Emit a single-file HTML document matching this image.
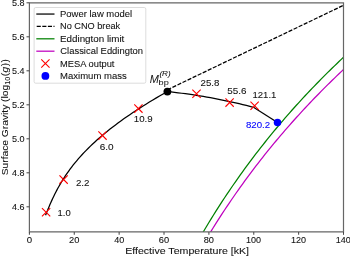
<!DOCTYPE html>
<html><head><meta charset="utf-8"><style>
html,body{margin:0;padding:0;background:#fff;width:350px;height:256px;overflow:hidden}
svg{display:block;will-change:transform}
text{font-family:"Liberation Sans",sans-serif}
</style></head><body>
<svg width="350" height="256" viewBox="0 0 350 256">
<rect width="350" height="256" fill="#fff"/>
<defs><clipPath id="ax"><rect x="29.40" y="2.80" width="314.10" height="229.15"/></clipPath></defs>
<g clip-path="url(#ax)">
<path d="M167.4,89.8 L343.5,5.3" stroke="#000" stroke-width="1.25" stroke-dasharray="4.1,1.5" fill="none"/>
<path d="M164.01,307.51 L166.26,302.63 L168.50,297.82 L170.75,293.10 L172.99,288.45 L175.23,283.87 L177.48,279.36 L179.72,274.92 L181.96,270.54 L184.21,266.23 L186.45,261.98 L188.69,257.79 L190.94,253.66 L193.18,249.59 L195.42,245.57 L197.67,241.61 L199.91,237.70 L202.16,233.84 L204.40,230.03 L206.64,226.26 L208.89,222.55 L211.13,218.88 L213.37,215.26 L215.62,211.68 L217.86,208.14 L220.10,204.65 L222.35,201.19 L224.59,197.78 L226.83,194.40 L229.08,191.06 L231.32,187.77 L233.57,184.50 L235.81,181.27 L238.05,178.08 L240.30,174.92 L242.54,171.80 L244.78,168.71 L247.03,165.65 L249.27,162.62 L251.51,159.62 L253.76,156.65 L256.00,153.71 L258.24,150.80 L260.49,147.92 L262.73,145.07 L264.97,142.24 L267.22,139.44 L269.46,136.67 L271.71,133.92 L273.95,131.20 L276.19,128.50 L278.44,125.83 L280.68,123.18 L282.92,120.56 L285.17,117.95 L287.41,115.38 L289.65,112.82 L291.90,110.28 L294.14,107.77 L296.38,105.28 L298.63,102.81 L300.87,100.36 L303.12,97.93 L305.36,95.51 L307.60,93.12 L309.85,90.75 L312.09,88.40 L314.33,86.06 L316.58,83.75 L318.82,81.45 L321.06,79.17 L323.31,76.91 L325.55,74.66 L327.80,72.43 L330.04,70.22 L332.28,68.02 L334.53,65.84 L336.77,63.68 L339.01,61.53 L341.26,59.40 L343.50,57.28 L345.74,55.18" stroke="#008000" stroke-width="1.25" fill="none"/>
<path d="M164.01,319.75 L166.26,314.87 L168.50,310.06 L170.75,305.34 L172.99,300.69 L175.23,296.11 L177.48,291.60 L179.72,287.16 L181.96,282.78 L184.21,278.47 L186.45,274.22 L188.69,270.03 L190.94,265.90 L193.18,261.83 L195.42,257.81 L197.67,253.85 L199.91,249.94 L202.16,246.08 L204.40,242.27 L206.64,238.50 L208.89,234.79 L211.13,231.12 L213.37,227.50 L215.62,223.92 L217.86,220.38 L220.10,216.89 L222.35,213.43 L224.59,210.02 L226.83,206.64 L229.08,203.30 L231.32,200.01 L233.57,196.74 L235.81,193.51 L238.05,190.32 L240.30,187.16 L242.54,184.04 L244.78,180.95 L247.03,177.89 L249.27,174.86 L251.51,171.86 L253.76,168.89 L256.00,165.95 L258.24,163.04 L260.49,160.16 L262.73,157.31 L264.97,154.48 L267.22,151.68 L269.46,148.91 L271.71,146.16 L273.95,143.44 L276.19,140.74 L278.44,138.07 L280.68,135.42 L282.92,132.80 L285.17,130.19 L287.41,127.62 L289.65,125.06 L291.90,122.52 L294.14,120.01 L296.38,117.52 L298.63,115.05 L300.87,112.60 L303.12,110.17 L305.36,107.75 L307.60,105.36 L309.85,102.99 L312.09,100.64 L314.33,98.30 L316.58,95.99 L318.82,93.69 L321.06,91.41 L323.31,89.15 L325.55,86.90 L327.80,84.67 L330.04,82.46 L332.28,80.26 L334.53,78.08 L336.77,75.92 L339.01,73.77 L341.26,71.64 L343.50,69.52 L345.74,67.42" stroke="#bf00bf" stroke-width="1.25" fill="none"/>
<path d="M45.54,215.30 L46.37,213.20 L47.21,211.11 L48.07,209.01 L48.95,206.91 L49.84,204.82 L50.76,202.72 L51.70,200.62 L52.67,198.53 L53.67,196.43 L54.70,194.33 L55.76,192.24 L56.85,190.14 L57.98,188.04 L59.15,185.95 L60.36,183.85 L61.61,181.75 L62.90,179.66 L64.24,177.56 L65.62,175.46 L67.05,173.37 L68.53,171.27 L70.05,169.17 L71.63,167.08 L73.26,164.98 L74.95,162.88 L76.68,160.79 L78.48,158.69 L80.32,156.59 L82.23,154.50 L84.19,152.40 L86.21,150.31 L88.29,148.21 L90.43,146.11 L92.63,144.02 L94.89,141.92 L97.21,139.82 L99.59,137.73 L102.03,135.63 L104.53,133.53 L107.09,131.44 L109.72,129.34 L112.41,127.24 L115.16,125.15 L117.97,123.05 L120.84,120.95 L123.77,118.86 L126.77,116.76 L129.82,114.66 L132.93,112.57 L136.11,110.47 L139.34,108.37 L142.63,106.28 L145.98,104.18 L149.38,102.08 L152.85,99.99 L156.36,97.89 L159.94,95.79 L163.56,93.70 L167.24,91.60" stroke="#000" stroke-width="1.25" stroke-linejoin="round" fill="none"/>
<path d="M167.40,91.61 L170.99,91.98 L174.58,92.38 L178.16,92.80 L181.75,93.25 L185.34,93.72 L188.93,94.22 L192.51,94.74 L196.10,95.28 L199.69,95.85 L203.28,96.44 L206.86,97.06 L210.45,97.70 L214.04,98.37 L217.62,99.06 L221.21,99.78 L224.80,100.52 L228.39,101.28 L231.98,102.07 L235.56,102.88 L239.15,103.72 L242.74,104.58 L246.32,105.46 L249.91,106.37 L253.50,107.31" stroke="#000" stroke-width="1.25" stroke-linejoin="round" fill="none"/>
<path d="M253.50,107.30 L277.50,122.50" stroke="#000" stroke-width="1.25" stroke-linejoin="round" fill="none"/>
<path d="M41.95,208.15 L50.25,216.45 M41.95,216.45 L50.25,208.15" stroke="#ff0000" stroke-width="1.1" fill="none"/>
<path d="M59.45,175.45 L67.75,183.75 M59.45,183.75 L67.75,175.45" stroke="#ff0000" stroke-width="1.1" fill="none"/>
<path d="M98.35,131.45 L106.65,139.75 M98.35,139.75 L106.65,131.45" stroke="#ff0000" stroke-width="1.1" fill="none"/>
<path d="M134.25,104.45 L142.55,112.75 M134.25,112.75 L142.55,104.45" stroke="#ff0000" stroke-width="1.1" fill="none"/>
<path d="M192.35,89.55 L200.65,97.85 M192.35,97.85 L200.65,89.55" stroke="#ff0000" stroke-width="1.1" fill="none"/>
<path d="M225.45,98.45 L233.75,106.75 M225.45,106.75 L233.75,98.45" stroke="#ff0000" stroke-width="1.1" fill="none"/>
<path d="M250.45,101.55 L258.75,109.85 M250.45,109.85 L258.75,101.55" stroke="#ff0000" stroke-width="1.1" fill="none"/>
<circle cx="167.4" cy="91.6" r="3.9" fill="#000"/>
<circle cx="277.5" cy="122.5" r="3.75" fill="#0000ff"/>
</g>
<text transform="translate(57.48,215.60) scale(0.9886,1)" font-size="9.6" fill="#111" stroke="#111" stroke-width="0.08">1.0</text>
<text transform="translate(75.91,186.40) scale(1.0174,1)" font-size="9.6" fill="#111" stroke="#111" stroke-width="0.08">2.2</text>
<text transform="translate(99.69,150.00) scale(1.0417,1)" font-size="9.6" fill="#111" stroke="#111" stroke-width="0.08">6.0</text>
<text transform="translate(133.76,122.20) scale(1.0114,1)" font-size="9.6" fill="#111" stroke="#111" stroke-width="0.08">10.9</text>
<text transform="translate(200.51,85.70) scale(1.0119,1)" font-size="9.6" fill="#111" stroke="#111" stroke-width="0.08">25.8</text>
<text transform="translate(227.20,94.10) scale(1.0294,1)" font-size="9.6" fill="#111" stroke="#111" stroke-width="0.08">55.6</text>
<text transform="translate(252.47,97.50) scale(0.9992,1)" font-size="9.6" fill="#111" stroke="#111" stroke-width="0.08">121.1</text>
<text transform="translate(245.98,127.50) scale(1.0075,1)" font-size="9.6" fill="#0000ff" stroke="#0000ff" stroke-width="0.08">820.2</text>
<text transform="translate(149.66,82.80) scale(1.0973,1)" font-size="10.0" font-style="italic" fill="#111" stroke="#111" stroke-width="0">M</text>
<text transform="translate(158.60,84.60) scale(1.2371,1)" font-size="7.4" fill="#111" stroke="#111" stroke-width="0.05">bp</text>
<text transform="translate(159.42,76.20) scale(1.1598,1)" font-size="7.0" font-style="italic" fill="#111" stroke="#111" stroke-width="0.05">(R)</text>
<path d="M29.4,2.8 L29.4,231.95 L343.5,231.95 L343.5,2.8 Z" stroke="#666666" stroke-width="1.2" fill="none"/>
<line x1="29.40" y1="231.95" x2="29.40" y2="234.85" stroke="#4a4a4a" stroke-width="1.05"/>
<text transform="translate(26.72,243.40) scale(1.1456,1)" font-size="8.4" fill="#111" stroke="#111" stroke-width="0.08">0</text>
<line x1="74.27" y1="231.95" x2="74.27" y2="234.85" stroke="#4a4a4a" stroke-width="1.05"/>
<text transform="translate(69.06,243.40) scale(1.1055,1)" font-size="8.4" fill="#111" stroke="#111" stroke-width="0.08">20</text>
<line x1="119.14" y1="231.95" x2="119.14" y2="234.85" stroke="#4a4a4a" stroke-width="1.05"/>
<text transform="translate(114.18,243.40) scale(1.0771,1)" font-size="8.4" fill="#111" stroke="#111" stroke-width="0.08">40</text>
<line x1="164.01" y1="231.95" x2="164.01" y2="234.85" stroke="#4a4a4a" stroke-width="1.05"/>
<text transform="translate(158.79,243.40) scale(1.1066,1)" font-size="8.4" fill="#111" stroke="#111" stroke-width="0.08">60</text>
<line x1="208.89" y1="231.95" x2="208.89" y2="234.85" stroke="#4a4a4a" stroke-width="1.05"/>
<text transform="translate(203.74,243.40) scale(1.0980,1)" font-size="8.4" fill="#111" stroke="#111" stroke-width="0.08">80</text>
<line x1="253.76" y1="231.95" x2="253.76" y2="234.85" stroke="#4a4a4a" stroke-width="1.05"/>
<text transform="translate(246.07,243.40) scale(1.0732,1)" font-size="8.4" fill="#111" stroke="#111" stroke-width="0.08">100</text>
<line x1="298.63" y1="231.95" x2="298.63" y2="234.85" stroke="#4a4a4a" stroke-width="1.05"/>
<text transform="translate(290.94,243.40) scale(1.0732,1)" font-size="8.4" fill="#111" stroke="#111" stroke-width="0.08">120</text>
<line x1="343.50" y1="231.95" x2="343.50" y2="234.85" stroke="#4a4a4a" stroke-width="1.05"/>
<text transform="translate(335.81,243.40) scale(1.0732,1)" font-size="8.4" fill="#111" stroke="#111" stroke-width="0.08">140</text>
<line x1="26.50" y1="206.80" x2="29.40" y2="206.80" stroke="#4a4a4a" stroke-width="1.05"/>
<text transform="translate(12.09,209.90) scale(1.0708,1)" font-size="8.4" fill="#111" stroke="#111" stroke-width="0.08">4.6</text>
<line x1="26.50" y1="172.80" x2="29.40" y2="172.80" stroke="#4a4a4a" stroke-width="1.05"/>
<text transform="translate(12.09,175.90) scale(1.0700,1)" font-size="8.4" fill="#111" stroke="#111" stroke-width="0.08">4.8</text>
<line x1="26.50" y1="138.80" x2="29.40" y2="138.80" stroke="#4a4a4a" stroke-width="1.05"/>
<text transform="translate(11.94,141.90) scale(1.0806,1)" font-size="8.4" fill="#111" stroke="#111" stroke-width="0.08">5.0</text>
<line x1="26.50" y1="104.80" x2="29.40" y2="104.80" stroke="#4a4a4a" stroke-width="1.05"/>
<text transform="translate(11.93,107.90) scale(1.0897,1)" font-size="8.4" fill="#111" stroke="#111" stroke-width="0.08">5.2</text>
<line x1="26.50" y1="70.80" x2="29.40" y2="70.80" stroke="#4a4a4a" stroke-width="1.05"/>
<text transform="translate(11.94,73.90) scale(1.0724,1)" font-size="8.4" fill="#111" stroke="#111" stroke-width="0.08">5.4</text>
<line x1="26.50" y1="36.80" x2="29.40" y2="36.80" stroke="#4a4a4a" stroke-width="1.05"/>
<text transform="translate(11.94,39.90) scale(1.0847,1)" font-size="8.4" fill="#111" stroke="#111" stroke-width="0.08">5.6</text>
<line x1="26.50" y1="2.80" x2="29.40" y2="2.80" stroke="#4a4a4a" stroke-width="1.05"/>
<text transform="translate(11.94,5.90) scale(1.0839,1)" font-size="8.4" fill="#111" stroke="#111" stroke-width="0.08">5.8</text>
<text transform="translate(125.13,253.90) scale(1.1286,1)" font-size="9.4" fill="#111" stroke="#111" stroke-width="0.08">Effective Temperature [kK]</text>
<g transform="translate(8.0,175.3) rotate(-90)"><text font-size="9.4" fill="#111" stroke="#111" stroke-width="0.08" transform="scale(1.09,1)">Surface Gravity (log<tspan font-size="6.6" dy="1.8">10</tspan><tspan dy="-1.8" dx="0.4">(</tspan><tspan font-style="italic" dx="0.4">g</tspan><tspan dx="0.4">)</tspan><tspan dx="0.4">)</tspan></text></g>
<rect x="34.1" y="7.5" width="111.7" height="75.7" rx="1.6" ry="1.6" fill="#fff" fill-opacity="0.8" stroke="#d6d6d6" stroke-width="0.85"/>
<line x1="36.3" y1="14.05" x2="54.5" y2="14.05" stroke="#000" stroke-width="1.25"/>
<line x1="36.7" y1="26.43" x2="54.5" y2="26.43" stroke="#000" stroke-width="1.25" stroke-dasharray="4.1,1.5"/>
<line x1="36.3" y1="38.81" x2="54.5" y2="38.81" stroke="#008000" stroke-width="1.25"/>
<line x1="36.3" y1="51.19" x2="54.5" y2="51.19" stroke="#bf00bf" stroke-width="1.25"/>
<path d="M41.25,59.42 L49.55,67.72 M41.25,67.72 L49.55,59.42" stroke="#ff0000" stroke-width="1.1" fill="none"/>
<circle cx="45.4" cy="75.95" r="3.9" fill="#0000ff"/>
<text transform="translate(60.02,17.05) scale(1.0656,1)" font-size="8.9" fill="#111" stroke="#111" stroke-width="0.08">Power law model</text>
<text transform="translate(60.05,29.43) scale(1.0322,1)" font-size="8.9" fill="#111" stroke="#111" stroke-width="0.08">No CNO break</text>
<text transform="translate(59.99,41.81) scale(1.1045,1)" font-size="8.9" fill="#111" stroke="#111" stroke-width="0.08">Eddington limit</text>
<text transform="translate(60.32,54.19) scale(1.0592,1)" font-size="8.9" fill="#111" stroke="#111" stroke-width="0.08">Classical Eddington</text>
<text transform="translate(60.04,66.57) scale(1.0478,1)" font-size="8.9" fill="#111" stroke="#111" stroke-width="0.08">MESA output</text>
<text transform="translate(60.02,78.95) scale(1.0725,1)" font-size="8.9" fill="#111" stroke="#111" stroke-width="0.08">Maximum mass</text>
</svg>
</body></html>
